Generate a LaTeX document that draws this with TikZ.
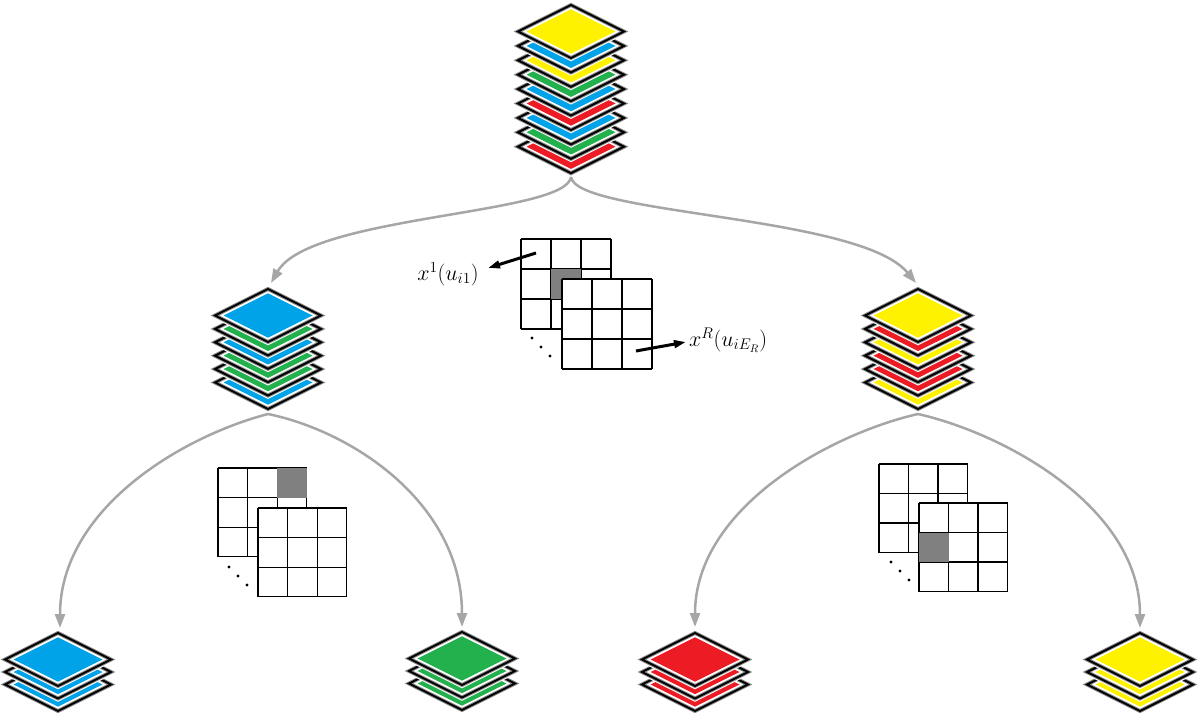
\RequirePackage{fix-cm}
\documentclass[tikz,border=0pt]{standalone}
\usetikzlibrary{arrows.meta}
\definecolor{pyellow}{HTML}{FFF200}
\definecolor{pblue}{HTML}{00A2E8}
\definecolor{pgreen}{HTML}{22B14C}
\definecolor{pred}{HTML}{ED1C24}
\definecolor{arrgray}{HTML}{A6A6A6}
\definecolor{cellgray}{HTML}{808080}
\tikzset{
 layer/.pic={
  \path[draw=white, fill=white, line width=6pt, line join=miter] (-53,0)--(0,-26.5)--(53,0)--(0,26.5)--cycle;
  \draw[black!45, line width=4pt, line join=miter] (-53,0)--(0,-26.5)--(53,0)--(0,26.5)--cycle;
  \draw[black, line width=2pt, line join=miter] (-53,0)--(0,-26.5)--(53,0)--(0,26.5)--cycle;
  \fill[#1] (-44.5,0)--(0,-22.2)--(44.5,0)--(0,22.2)--cycle;
 },
 branch/.style={draw=arrgray, line width=2.5pt, -{Triangle[length=14pt,width=10pt]}},
 pointer/.style={draw=black, line width=3pt, -{Triangle[length=12pt,width=7.5pt]}},
 gridline/.style={draw=black, line width=1.3pt},
 lbl/.style={font=\fontsize{20}{24}\selectfont, inner sep=0pt},
 dotmark/.style={fill=black},
}
\newcommand\layerstack[5]{%
 \foreach \c [count=\i] in {#5} {
   \pgfmathsetmacro\yy{#2+(#4-\i)*#3}
   \pic at (#1,\yy) {layer=\c};
 }}
\newcommand\gridbox[3]{%
 \fill[white] (#1,#2) rectangle ++(3*#3,3*#3);
 \foreach \k in {0,1,2,3} {
   \draw[gridline] (#1+\k*#3,#2) -- ++(0,3*#3);
   \draw[gridline] (#1,#2+\k*#3) -- ++(3*#3,0);
 }}
\newcommand\graycell[3]{\fill[cellgray] (#1,#2) rectangle ++(#3,#3);}
\newcommand\threedots[2]{%
 \fill[dotmark] (#1,#2) circle (1.6);
 \fill[dotmark] (#1+9,#2+9) circle (1.6);
 \fill[dotmark] (#1+18,#2+18) circle (1.6);}
\begin{document}
\begin{tikzpicture}[x=1pt,y=-1pt]
\useasboundingbox (0,0) rectangle (1200,719);
% stacks
\layerstack{571}{31.5}{14.4}{9}{pred,pgreen,pblue,pred,pblue,pgreen,pyellow,pblue,pyellow}
\layerstack{268}{315.5}{13.4}{6}{pblue,pgreen,pgreen,pblue,pgreen,pblue}
\layerstack{918}{315.5}{13.4}{6}{pyellow,pred,pred,pyellow,pred,pyellow}
\layerstack{58}{659.5}{12.5}{3}{pblue,pblue,pblue}
\layerstack{462}{658.5}{12.5}{3}{pgreen,pgreen,pgreen}
\layerstack{695}{659.5}{12.5}{3}{pred,pred,pred}
\layerstack{1140}{659.5}{12.5}{3}{pyellow,pyellow,pyellow}
% anchor points of the stacks
\coordinate (rootB) at (571,177);
\coordinate (leftT) at (271,283);
\coordinate (leftB) at (268,414);
\coordinate (rightT) at (916,283);
\coordinate (rightB) at (918,414);
\coordinate (llT) at (60,628);
\coordinate (lrT) at (462,627);
\coordinate (rlT) at (695,627);
\coordinate (rrT) at (1140,628);
% connectors
\draw[branch] (rootB) .. controls (566,215) and (310,215) .. (leftT);
\draw[branch] (rootB) .. controls (576,215) and (860,215) .. (rightT);
\draw[branch] (leftB) .. controls (180,437) and (60,510) .. (llT);
\draw[branch] (leftB) .. controls (355,432) and (462,505) .. (lrT);
\draw[branch] (rightB) .. controls (830,434) and (695,508) .. (rlT);
\draw[branch] (rightB) .. controls (1006,434) and (1140,508) .. (rrT);
% middle grids
\gridbox{521}{239}{30}
\graycell{551}{269}{30}
\gridbox{562}{279}{30}
\threedots{532}{338}
% left-bottom grids
\gridbox{218}{468}{29.6}
\graycell{277.2}{468}{29.6}
\gridbox{258}{508}{29.6}
\threedots{229}{567}
% right-bottom grids
\gridbox{879}{464}{29.5}
\gridbox{919}{503}{29.5}
\graycell{919}{532.5}{29.5}
\threedots{891}{562}
% labels and pointers
\node[lbl] (lab1) at (448,274) {\scalebox{1.1}{$x^1(u_{i1})$}};
\node[lbl, anchor=west] (lab2) at (689,340) {\scalebox{1.1}{$x^R(u_{iE_R})$}};
\coordinate (p1s) at (536,253);
\coordinate (p1e) at (488,268);
\coordinate (p2s) at (636,351);
\coordinate (p2e) at (686,342);
\draw[pointer] (p1s) -- (p1e);
\draw[pointer] (p2s) -- (p2e);
\end{tikzpicture}
\end{document}
